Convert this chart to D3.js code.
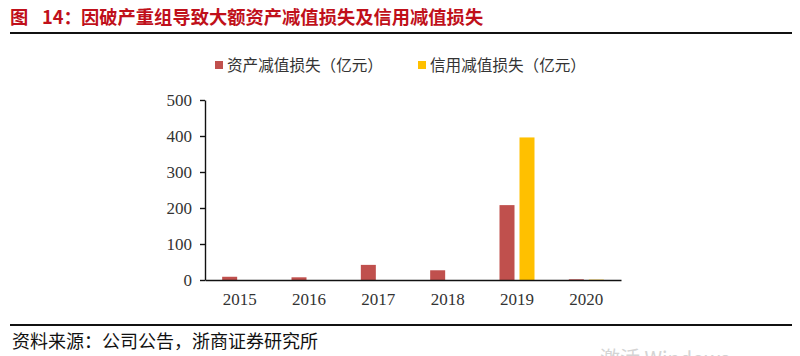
<!DOCTYPE html>
<html>
<head>
<meta charset="utf-8">
<script src="https://cdn.jsdelivr.net/npm/d3@7"></script>
<style>
  html, body { margin: 0; padding: 0; background: #fff; }
  svg { display: block; }
</style>
</head>
<body>
<script>
const years = ["2015", "2016", "2017", "2018", "2019", "2020"];
const assetLoss = [9, 7.5, 42, 27, 208, 2];
const creditLoss = [0, 0, 0, 0, 396, 1];
const yTicks = [0, 100, 200, 300, 400, 500];
const seriesNames = ["资产减值损失（亿元）", "信用减值损失（亿元）"];
const seriesColors = ["#c0504d", "#ffc000"];
const titleParts = ["图", "14：", "因破产重组导致大额资产减值损失及信用减值损失"];
const sourceText = "资料来源：公司公告，浙商证券研究所";

const W = 800, H = 356;
const svg = d3.select("body").append("svg").attr("width", W).attr("height", H);

const cjk = "'Noto Sans CJK SC', sans-serif";
const serif = "'Liberation Serif', 'Times New Roman', serif";

// Title
const title = svg.append("text").attr("y", 24)
  .attr("font-family", cjk).attr("font-weight", "bold").attr("font-size", 18.3)
  .attr("fill", "#c0101a");
const titleX = [10, 42, 81];
titleParts.forEach((t, i) => title.append("tspan").attr("x", titleX[i]).text(t));
svg.append("line").attr("x1", 10).attr("x2", 792).attr("y1", 33).attr("y2", 33)
  .attr("stroke", "#111").attr("stroke-width", 2);

// Scales
const x0 = d3.scaleBand().domain(years).range([205, 621]).paddingInner(0).paddingOuter(0);
const x1 = d3.scaleBand().domain([0, 1]).range([0, 35]).paddingInner(0.25).paddingOuter(0);
const y = d3.scaleLinear().domain([0, 500]).range([280, 100]);

const rows = years.map((yr, i) => ({ yr, vals: [assetLoss[i], creditLoss[i]] }));

const groups = svg.append("g").selectAll("g").data(rows).join("g")
  .attr("transform", d => `translate(${x0(d.yr) + x0.bandwidth() / 2 - 17.5},0)`);
groups.selectAll("rect").data(d => d.vals.map((v, k) => ({ v, k }))).join("rect")
  .attr("x", d => x1(d.k))
  .attr("width", x1.bandwidth())
  .attr("y", d => y(d.v))
  .attr("height", d => y(0) - y(d.v))
  .attr("fill", d => seriesColors[d.k]);

// Y axis
const yAxis = svg.append("g").attr("transform", "translate(205,0)")
  .call(d3.axisLeft(y).tickValues(yTicks).tickSize(5).tickSizeOuter(0).tickPadding(8));
yAxis.selectAll("text").attr("font-family", serif).attr("font-size", 17).attr("fill", "#333");
yAxis.selectAll("line, path").attr("stroke", "#111").attr("stroke-width", 1.4);

// X axis
const xAxis = svg.append("g").attr("transform", "translate(0,280)")
  .call(d3.axisBottom(x0).tickSize(0).tickSizeOuter(0).tickPadding(13));
xAxis.selectAll("text").attr("font-family", serif).attr("font-size", 17).attr("fill", "#333");
xAxis.select("path").attr("stroke", "#111").attr("stroke-width", 1.4);

// Legend
const legendX = [215, 418];
seriesNames.forEach((name, k) => {
  svg.append("rect").attr("x", legendX[k]).attr("y", 61).attr("width", 8).attr("height", 8)
    .attr("fill", seriesColors[k]);
  svg.append("text").attr("x", legendX[k] + 12).attr("y", 71)
    .attr("font-family", cjk).attr("font-size", 15.6).attr("fill", "#333").text(name);
});

// Source
svg.append("line").attr("x1", 10).attr("x2", 792).attr("y1", 325).attr("y2", 325)
  .attr("stroke", "#111").attr("stroke-width", 2);
svg.append("text").attr("x", 12).attr("y", 348)
  .attr("font-family", cjk).attr("font-size", 18).attr("fill", "#111").text(sourceText);

// Faint watermark (cut off at the bottom edge, as in the reference)
svg.append("text").attr("x", 600).attr("y", 366)
  .attr("font-family", cjk).attr("font-size", 20).attr("fill", "#d4d4d4").text("激活 Windows");
</script>
</body>
</html>
